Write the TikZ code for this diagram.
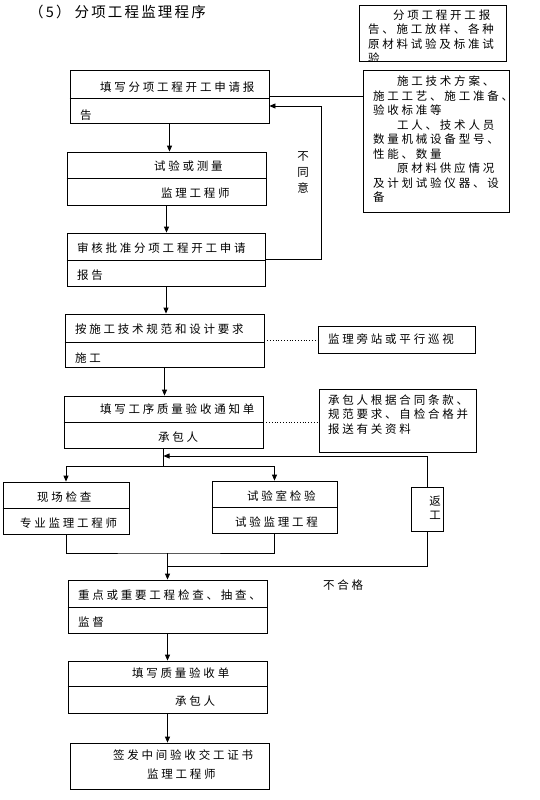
\documentclass[tikz,border=0pt]{standalone}
\usepackage{fontspec}
\usepackage{tikz}
\usetikzlibrary{arrows.meta, calc}
\newfontfamily\cjk[LetterSpace=24]{Noto Sans CJK SC}
\newfontfamily\cjktitle[LetterSpace=15]{Noto Sans CJK SC}

\begin{document}
\begin{tikzpicture}[x=1pt, y=-1pt,
    box/.style={draw, line width=0.8pt, inner sep=0},
    txt/.style={inner sep=0, anchor=west, font=\cjk\fontsize{11.5}{14.5}\selectfont},
    para/.style={inner sep=0, anchor=north west, align=left, font=\cjk\fontsize{11.5}{14.5}\selectfont},
    arr/.style={line width=0.8pt, -{Triangle[length=6pt,width=5pt]}},
    con/.style={line width=0.8pt}]
    \useasboundingbox (0,0) rectangle (539,800);

    \node (tt) at (29,12) [anchor=west, inner sep=0, font=\cjktitle\fontsize{14.5}{16}\selectfont] {（5）\hspace{4pt}分项工程监理程序};

    \node (tb) at (432.5,33) [box, minimum width=147pt, minimum height=56pt] {};
    \node (r1) at (436,141) [box, minimum width=146pt, minimum height=142pt] {};
    \node (r2) at (396.5,339.5) [box, minimum width=157pt, minimum height=27pt] {};
    \node (r3) at (397.5,420.5) [box, minimum width=157pt, minimum height=63pt] {};
    \node (fg) at (427,509) [box, minimum width=32pt, minimum height=44pt] {};

    \node (b1) at (169.5,96.5) [box, minimum width=199pt, minimum height=53pt] {};
    \node (b2) at (166.5,178.5) [box, minimum width=199pt, minimum height=53pt] {};
    \node (b3) at (166,259.5) [box, minimum width=198pt, minimum height=53pt] {};
    \node (b4) at (164.5,340.5) [box, minimum width=199pt, minimum height=53pt] {};
    \node (b5) at (163.5,422) [box, minimum width=199pt, minimum height=52pt] {};
    \node (b6) at (66,508) [box, minimum width=126pt, minimum height=52pt] {};
    \node (b7) at (274.5,507) [box, minimum width=125pt, minimum height=52pt] {};
    \node (b8) at (167.5,606.5) [box, minimum width=199pt, minimum height=53pt] {};
    \node (b9) at (167.5,687) [box, minimum width=199pt, minimum height=52pt] {};
    \node (b10) at (169.5,766) [box, minimum width=199pt, minimum height=46pt] {};

    \draw[con] (b1.west |- 0,98) -- (b1.east |- 0,98);
    \draw[con] (b2.west |- 0,178) -- (b2.east |- 0,178);
    \draw[con] (b3.west |- 0,260) -- (b3.east |- 0,260);
    \draw[con] (b4.west |- 0,342) -- (b4.east |- 0,342);
    \draw[con] (b5.west |- 0,422) -- (b5.east |- 0,422);
    \draw[con] (b6.west |- 0,508) -- (b6.east |- 0,508);
    \draw[con] (b7.west |- 0,507) -- (b7.east |- 0,507);
    \draw[con] (b8.west |- 0,607) -- (b8.east |- 0,607);
    \draw[con] (b9.west |- 0,686) -- (b9.east |- 0,686);

    \begin{scope}
        \clip (tb.south west) rectangle (tb.north east);
        \node (p0) at (368,9.5) [para] {\hspace*{25pt}分项工程开工报\\告、施工放样、各种\\原材料试验及标准试\\验};
    \end{scope}
    \node (p1) at (373,76) [para] {\hspace*{24pt}施工技术方案、\\施工工艺、施工准备、\\验收标准等\\\hspace*{24pt}工人、技术人员\\数量机械设备型号、\\性能、数量\\\hspace*{24pt}原材料供应情况\\及计划试验仪器、设\\备};
    \node (p2) at (328,339) [txt] {监理旁站或平行巡视};
    \node (p3) at (328,394.5) [para] {承包人根据合同条款、\\规范要求、自检合格并\\报送有关资料};

    \node (t1a) at (100,87) [txt] {填写分项工程开工申请报};
    \node (t1b) at (80,115) [txt] {告};
    \node (t2a) at (154,166) [txt] {试验或测量};
    \node (t2b) at (161,193) [txt] {监理工程师};
    \node (t3a) at (77,248) [txt] {审核批准分项工程开工申请};
    \node (t3b) at (77,275) [txt] {报告};
    \node (t4a) at (75,329) [txt] {按施工技术规范和设计要求};
    \node (t4b) at (75,358) [txt] {施工};
    \node (t5a) at (100,409) [txt] {填写工序质量验收通知单};
    \node (t5b) at (158,437) [txt] {承包人};
    \node (t6a) at (37,497) [txt] {现场检查};
    \node (t6b) at (20,523) [txt] {专业监理工程师};
    \node (t7a) at (247,496) [txt] {试验室检验};
    \node (t7b) at (235,522) [txt] {试验监理工程};
    \node (t8a) at (78,595) [txt] {重点或重要工程检查、抽查、};
    \node (t8b) at (78,622) [txt] {监督};
    \node (t9a) at (132,673) [txt] {填写质量验收单};
    \node (t9b) at (175,701) [txt] {承包人};
    \node (t10a) at (113,755) [txt] {签发中间验收交工证书};
    \node (t10b) at (147,774) [txt] {监理工程师};

    \node (ty) at (303,172) [inner sep=0, align=center, font=\cjk\fontsize{11.5}{16}\selectfont] {不\\同\\意};
    \node (tr) at (435,508) [inner sep=0, align=center, font=\cjk\fontsize{11.5}{14}\selectfont] {返\\工};
    \node (tn) at (323,585) [txt] {不合格};

    \draw[arr] (b1.south) -- (b1.south |- b2.north);
    \draw[arr] (b2.south) -- (b2.south |- b3.north);
    \draw[arr] (b3.south) -- (b3.south |- b4.north);
    \draw[arr] (b4.south) -- (b4.south |- b5.north);
    \draw[con] (b1.east) -- (b1.east -| r1.west);
    \coordinate (ng) at (321,106);
    \draw[arr] (b3.east) -| (ng) -- (ng -| b1.east);
    \draw[con, dotted] (b4.east) -- (b4.east -| r2.west);
    \draw[con, dotted] (b5.east) -- (b5.east -| r3.west);

    \coordinate (fk) at (b5.south |- 0,466);
    \draw[con] (b5.south) -- (fk);
    \draw[arr] (fk) -| (b6.north);
    \draw[arr] (fk) -| (b7.north);
    \draw[arr] (fg.north) |- (b5.south |- 0,456);
    \coordinate (mg) at (b8.north |- 0,553);
    \draw[con] (b6.south) |- (mg) -| (b7.south);
    \draw[arr] (mg) -- (b8.north);
    \draw[con] (fg.south) |- (b8.north |- 0,566);
    \draw[arr] (b8.south) -- (b8.south |- b9.north);
    \draw[arr] (b9.south) -- (b9.south |- b10.north);
\end{tikzpicture}
\end{document}
